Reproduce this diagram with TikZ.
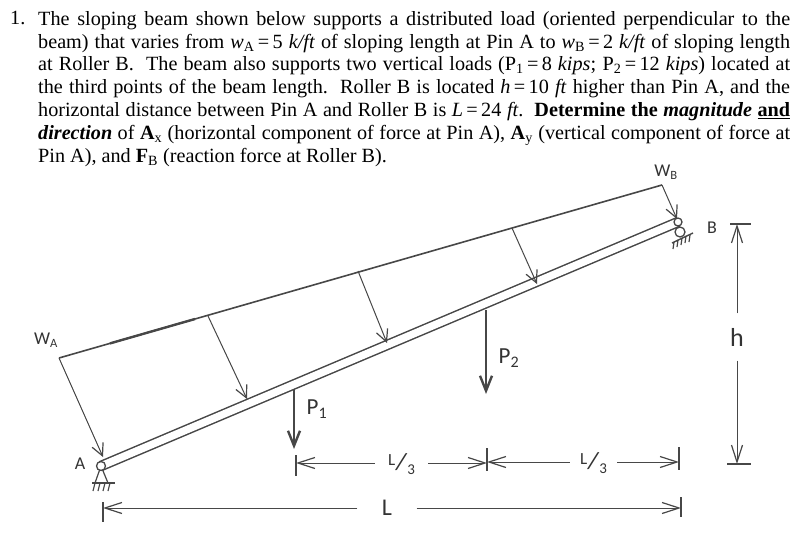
\documentclass[tikz,border=0pt]{standalone}
\usepackage{fontspec}
\setmainfont{Liberation Serif}
\newfontfamily\handfont{Carlito}
\usetikzlibrary{arrows.meta}
\tikzstyle{ink}=[
    draw = black!72,
    line width = 1.2pt
]
\tikzstyle{load arrow}=[
    ink,
    line width = 1pt,
    -{Straight Barb[length=12pt,width=12pt,line width=1.2pt]}
]
\tikzstyle{force arrow}=[
    ink,
    line width = 1.5pt,
    -{Straight Barb[length=15pt,width=12pt,line width=2.4pt]}
]
\tikzstyle{dim arrow}=[
    ink,
    line width = 1pt,
    -{Straight Barb[length=17pt,width=11pt,line width=1.2pt]}
]
\tikzstyle{tick}=[
    ink,
    line width = 1.4pt
]
\tikzstyle{hand}=[
    font = \handfont\fontsize{18}{18}\selectfont,
    text = black!80,
    inner sep = 0pt
]
\tikzstyle{gap}=[
    hand,
    fill = white
]
\newcommand{\thirdlabel}{\raisebox{4pt}{\fontsize{17}{17}\selectfont L}\rotatebox{-8}{\fontsize{25}{25}\selectfont/}\raisebox{-5pt}{\fontsize{15}{15}\selectfont 3}}

\begin{document}
\begin{tikzpicture}[x=1pt, y=-1pt]
    \useasboundingbox (0,0) rectangle (801,551);

    \node[inner sep=0pt, anchor=north west] (number) at (10,11) {\fontsize{20.2}{22.8}\selectfont 1.};
    \node[inner sep=0pt, anchor=north west, text width=752pt, align=justify] (problem) at (38,11) {\fontsize{20.2}{22.8}\selectfont
        The sloping beam shown below supports a distributed load (oriented perpendicular to the\linebreak
        beam) that varies from \textit{w}\textsubscript{A}\,=\,5 \textit{k/ft} of sloping length at Pin A to \textit{w}\textsubscript{B}\,=\,2 \textit{k/ft} of sloping length\linebreak
        at Roller B.\ \ The beam also supports two vertical loads (P\textsubscript{1}\,=\,8 \textit{kips}; P\textsubscript{2}\,=\,12 \textit{kips}) located at\linebreak
        the third points of the beam length.\ \ Roller B is located \textit{h}\,=\,10 \textit{ft} higher than Pin A, and the\linebreak
        horizontal distance between Pin A and Roller B is \textit{L}\,=\,24 \textit{ft}.\ \ \textbf{Determine the \textit{magnitude} \underline{and}}\linebreak
        \textbf{\textit{direction}} of \textbf{A}\textsubscript{x} (horizontal component of force at Pin A), \textbf{A}\textsubscript{y} (vertical component of force at\linebreak
        Pin A), and \textbf{F}\textsubscript{B} (reaction force at Roller B).\par};

    \coordinate (pinA) at (101,466);
    \coordinate (pinB) at (678,222);
    \coordinate (topA) at (59,358);
    \coordinate (topB) at (662,185);
    \coordinate (footA) at (103,457);
    \coordinate (footB) at (677,219);

    \draw[ink, line width=1.5pt, double=white, double distance=7.5pt] (pinA) -- (pinB);
    \draw[ink, line width=1.6pt] (topA) -- (topB);
    \coordinate (thickA) at (110,343.4);
    \coordinate (thickB) at (195,319);
    \draw[ink, line width=2.4pt] (thickA) -- (thickB);

    \draw[load arrow] (topA) -- (footA);
    \draw[load arrow] (topB) -- (footB);
    \coordinate (load1) at (208,316);
    \coordinate (load1b) at (247,399);
    \coordinate (load2) at (358,271);
    \coordinate (load2b) at (387,343);
    \coordinate (load3) at (512,228);
    \coordinate (load3b) at (537,284);
    \draw[load arrow] (load1) -- (load1b);
    \draw[load arrow] (load2) -- (load2b);
    \draw[load arrow] (load3) -- (load3b);

    \coordinate (p1a) at (294,390);
    \coordinate (p1b) at (294,449);
    \coordinate (p2a) at (486,310);
    \coordinate (p2b) at (486,394);
    \draw[force arrow] (p1a) -- (p1b);
    \draw[force arrow] (p2a) -- (p2b);

    \coordinate (triL) at (95,483);
    \coordinate (triR) at (108,483);
    \coordinate (groundAl) at (92,483);
    \coordinate (groundAr) at (115,483);
    \draw[ink] (pinA) -- (triL);
    \draw[ink] (pinA) -- (triR);
    \draw[ink, line width=1.4pt] (groundAl) -- (groundAr);
    \foreach \x in {95,100,105,110}
        \draw[ink] (\x,483) -- (\x-2,491);

    \node[draw=black!72, line width=1.3pt, fill=white, circle, minimum size=9pt, inner sep=0pt] (hingeA) at (pinA) {};
    \node[draw=black!72, line width=1.3pt, fill=white, circle, minimum size=8pt, inner sep=0pt] (hingeB) at (pinB) {};
    \node[draw=black!72, line width=1.3pt, circle, minimum size=10pt, inner sep=0pt] (roller) at (680,232) {};

    \coordinate (groundBl) at (672,243);
    \coordinate (groundBr) at (693,233);
    \draw[ink, line width=1.4pt] (groundBl) -- (groundBr);
    \foreach \x/\y in {674/242,678/240,682/238,686/236,690/235}
        \draw[ink] (\x,\y) -- (\x-1,\y+7);

    \node[hand] (wa) at (46,340) {W\textsubscript{A}};
    \node[hand] (wb) at (666,172) {W\textsubscript{B}};
    \node[hand] (labelA) at (80,464) {A};
    \node[hand] (labelB) at (712,228) {B};
    \node[hand, font=\handfont\fontsize{23}{23}\selectfont] (p1) at (317,409) {P\textsubscript{1}};
    \node[hand, font=\handfont\fontsize{23}{23}\selectfont] (p2) at (509,358) {P\textsubscript{2}};

    \coordinate (t1a) at (296,455);
    \coordinate (t1b) at (296,476);
    \coordinate (t1) at (296,463);
    \coordinate (t2a) at (487,448);
    \coordinate (t2b) at (487,471);
    \coordinate (t2) at (487,463);
    \coordinate (t3a) at (679,447);
    \coordinate (t3b) at (679,470);
    \coordinate (t3) at (679,462);
    \draw[tick] (t1a) -- (t1b);
    \draw[tick] (t2a) -- (t2b);
    \draw[tick] (t3a) -- (t3b);
    \node[gap, minimum width=53pt] (third1) at (401.5,463) {\thirdlabel};
    \node[gap, minimum width=47pt] (third2) at (593.5,462) {\thirdlabel};
    \draw[dim arrow] (third1) -- (t1);
    \draw[dim arrow] (third1) -- (t2);
    \draw[dim arrow] (third2) -- (t2 |- third2);
    \draw[dim arrow] (third2) -- (t3);

    \coordinate (la) at (103,502);
    \coordinate (lb) at (103,522);
    \coordinate (l1) at (103,508);
    \coordinate (ra) at (681,497);
    \coordinate (rb) at (681,517);
    \coordinate (l2) at (681,508);
    \draw[tick] (la) -- (lb);
    \draw[tick] (ra) -- (rb);
    \node[gap, minimum width=59pt, font=\handfont\fontsize{24}{24}\selectfont] (lenL) at (387,508) {L};
    \draw[dim arrow] (lenL) -- (l1);
    \draw[dim arrow] (lenL) -- (l2);

    \coordinate (ha) at (730,224);
    \coordinate (hb) at (751,224);
    \coordinate (h1) at (737,224);
    \coordinate (hc) at (727,464);
    \coordinate (hd) at (751,464);
    \coordinate (h2) at (737,464);
    \draw[tick] (ha) -- (hb);
    \draw[tick] (hc) -- (hd);
    \node[gap, minimum height=47pt, font=\handfont\fontsize{26}{26}\selectfont] (labelh) at (737,337) {h};
    \draw[dim arrow] (labelh) -- (h1);
    \draw[dim arrow] (labelh) -- (h2);
\end{tikzpicture}
\end{document}
